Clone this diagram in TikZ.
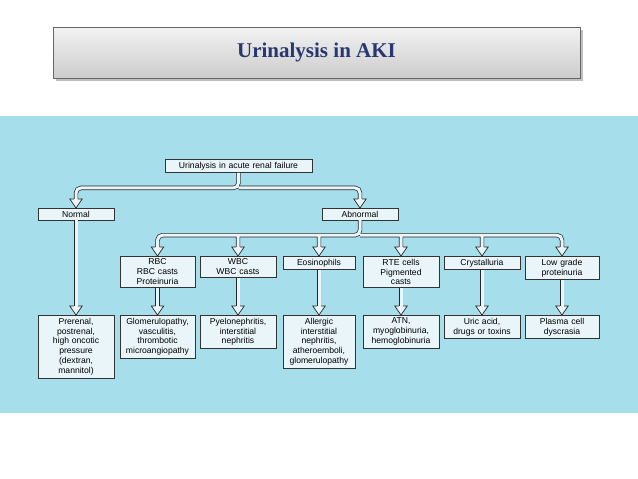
\documentclass[tikz,border=0pt]{standalone}
\usepackage{fontspec}
\setmainfont{Liberation Sans}
\newfontfamily\titlefont{Liberation Serif}
\usetikzlibrary{calc,shadows}
\definecolor{panel}{HTML}{A7DEEB}
\definecolor{boxfill}{HTML}{EAF5F9}
\definecolor{titleblue}{HTML}{26386F}
\tikzset{
  box/.style={draw=black!80,fill=boxfill,line width=0.7pt,anchor=north,align=center,
    inner xsep=0pt,inner ysep=2.6pt,font=\fontsize{8.6}{9.9}\selectfont},
  pipe/.style={draw=black!85,line width=0.7pt,double=boxfill,double distance=3pt,rounded corners=5pt},
}
% hollow arrow head, tip at #1
\newcommand{\ahead}[1]{\filldraw[draw=black!85,fill=boxfill,line width=0.7pt]
  ($(#1)+(-2.2,-9)$) -- ++(-4,0) -- ($(#1)$) -- ++(6.2,-9) -- ++(-4,0);}
\begin{document}
\begin{tikzpicture}[x=1pt,y=-1pt]
\useasboundingbox (0,0) rectangle (638,479);
\fill[white] (0,0) rectangle (638,479);
% title
\node[draw=black!60,top color=white!95!black,bottom color=black!20,drop shadow,
  minimum width=527pt,minimum height=51pt,inner sep=0pt,
  font=\titlefont\fontsize{21}{24}\selectfont\bfseries,text=titleblue] (title) at (316.5,52.5) {Urinalysis in AKI};
\fill[panel] (0,116) rectangle (638,413);
% boxes
\node[box,text width=147pt] (top) at (238.5,159) {Urinalysis in acute renal failure};
\node[box,text width=76pt] (normal) at (76,208) {Normal};
\node[box,text width=76pt] (abnormal) at (360,208) {Abnormal};
\node[box,text width=75pt] (rbc) at (157.5,256) {RBC\\RBC casts\\Proteinuria};
\node[box,text width=76pt] (wbc) at (238,256) {WBC\\WBC casts};
\node[box,text width=72pt] (eos) at (319,256) {Eosinophils};
\node[box,text width=76pt] (rte) at (401,256) {RTE cells\\Pigmented\\casts};
\node[box,text width=76pt] (crys) at (482,256) {Crystalluria};
\node[box,text width=74pt] (low) at (562,256) {Low grade\\proteinuria};
\node[box,text width=76pt] (pre) at (76,315) {Prerenal,\\postrenal,\\high oncotic\\pressure\\(dextran,\\mannitol)};
\node[box,text width=75pt] (glom) at (157.5,315) {Glomerulopathy,\\vasculitis,\\thrombotic\\microangiopathy};
\node[box,text width=76pt] (pyel) at (238,315) {Pyelonephritis,\\interstitial\\nephritis};
\node[box,text width=72pt] (aller) at (319,315) {Allergic\\interstitial\\nephritis,\\atheroemboli,\\glomerulopathy};
\node[box,text width=76pt] (atn) at (401,315) {ATN,\\myoglobinuria,\\hemoglobinuria};
\node[box,text width=76pt] (uric) at (482,315) {Uric acid,\\drugs or toxins};
\node[box,text width=74pt] (plasma) at (562,315) {Plasma cell\\dyscrasia};
% connectors
\coordinate (bus1) at ($(top.south)+(0,15)$);
\coordinate (bus2) at ($(abnormal.south)+(0,15)$);
\draw[pipe] (top.south) -- (bus1) -| ($(normal.north)+(0,-8)$)
  (bus1) -| ($(abnormal.north)+(0,-8)$);
\draw[pipe] (abnormal.south) -- (bus2) -| ($(rbc.north)+(0,-8)$)
  (bus2) -| ($(low.north)+(0,-8)$)
  (bus2 -| wbc) -- ($(wbc.north)+(0,-8)$)
  (bus2 -| eos) -- ($(eos.north)+(0,-8)$)
  (bus2 -| rte) -- ($(rte.north)+(0,-8)$)
  (bus2 -| crys) -- ($(crys.north)+(0,-8)$);
\foreach \a/\b in {normal/pre,rbc/glom,wbc/pyel,eos/aller,rte/atn,crys/uric,low/plasma}
  \draw[pipe] (\a.south) -- ($(\b.north)+(0,-8)$);
\foreach \n in {normal,abnormal,rbc,wbc,eos,rte,crys,low,pre,glom,pyel,aller,atn,uric,plasma}
  \ahead{\n.north};
\end{tikzpicture}
\end{document}
